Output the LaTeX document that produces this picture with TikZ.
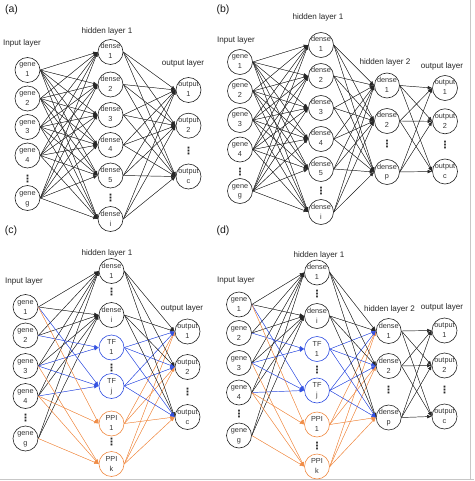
\documentclass[tikz,border=0pt]{standalone}
\usepackage{fontspec}
\setmainfont{Liberation Sans}
\newfontfamily\dvfont{DejaVu Sans}
\usetikzlibrary{arrows.meta}
\definecolor{tfblue}{RGB}{50,80,225}
\definecolor{ppiorange}{RGB}{240,140,70}
\newcommand\nlab[2]{\makebox[0pt]{\begin{tabular}{@{}c@{}}#1\\#2\end{tabular}}}
\newcommand\vdts{⋮}
\tikzset{
  neuron/.style={circle, draw=black!85, line width=0.6pt, minimum size=25pt, inner sep=0pt,
    font=\fontsize{7.3}{10}\selectfont, text=black!80},
  tfn/.style={neuron, draw=tfblue},
  ppin/.style={neuron, draw=ppiorange},
  conn/.style={-{Latex[length=4.5pt,width=3.6pt]}, line width=0.45pt, draw=black!85, fill=black!85},
  bconn/.style={conn, draw=tfblue, fill=tfblue},
  oconn/.style={conn, draw=ppiorange, fill=ppiorange},
  lbl/.style={font=\fontsize{8.1}{10}\selectfont, text=black!85, inner sep=0pt},
  plbl/.style={font=\fontsize{10.5}{12}\selectfont, text=black!90, inner sep=0pt},
  dts/.style={font=\dvfont\bfseries\fontsize{10}{10}\selectfont, text=black!85, inner sep=0pt},
  frame/.style={draw=black!22, line width=1pt}
}
\begin{document}
\begin{tikzpicture}[x=1pt,y=-1pt]
\useasboundingbox (0,0) rectangle (474,481);
\draw[frame] (470.5,0) -- (470.5,478.8);
\draw[frame] (0,479) -- (474,479);

% ---------------- panel (a)
\node[plbl] (pa) at (11.5,10) {(a)};
\node[lbl] (a-in) at (22,43) {Input layer};
\node[lbl] (a-hl) at (107,31) {hidden layer 1};
\node[lbl] (a-ol) at (183,63) {output layer};
\foreach \n/\y in {1/70,2/98.5,3/127,4/155.5,g/198}
  \node[neuron] (a-g\n) at (27.5,\y) {\nlab{gene}{\n}};
\node[dts] (a-gd) at (27.5,179) {\vdts};
\foreach \n/\y in {1/52,2/84.5,3/115,4/145,5/175.5,i/219}
  \node[neuron] (a-h\n) at (110.5,\y) {\nlab{dense}{\n}};
\node[dts] (a-hd) at (110.5,198.5) {\vdts};
\foreach \n/\y in {1/90,2/125.7,c/176.5}
  \node[neuron] (a-o\n) at (188.5,\y) {\nlab{output}{\n}};
\node[dts] (a-od) at (188.5,151) {\vdts};
\foreach \s in {1,2,3,4,g}
  \foreach \t in {1,2,3,4,5,i}
    \draw[conn] (a-g\s.east) -- (a-h\t.west);
\foreach \s in {1,2,3,4,5,i}
  \foreach \t in {1,2,c}
    \draw[conn] (a-h\s.east) -- (a-o\t.west);

% ---------------- panel (b)
\node[plbl] (pb) at (223,10) {(b)};
\node[lbl] (b-in) at (236,40) {Input layer};
\node[lbl] (b-hl) at (318,17.5) {hidden layer 1};
\node[lbl] (b-h2l) at (385,62) {hidden layer 2};
\node[lbl] (b-ol) at (442,66) {output layer};
\foreach \n/\y in {1/62,2/91,3/120,4/149.5,g/191}
  \node[neuron] (b-g\n) at (240,\y) {\nlab{gene}{\n}};
\node[dts] (b-gd) at (240,172.5) {\vdts};
\foreach \n/\y in {1/45,2/76,3/108,4/139,5/169,i/212}
  \node[neuron] (b-h\n) at (321,\y) {\nlab{dense}{\n}};
\node[dts] (b-hd) at (321,191) {\vdts};
\foreach \n/\y in {1/85.5,2/121,p/172}
  \node[neuron] (b-k\n) at (387,\y) {\nlab{dense}{\n}};
\node[dts] (b-kd) at (387,144) {\vdts};
\foreach \n/\y in {1/88,2/121.3,c/171.5}
  \node[neuron] (b-o\n) at (445,\y) {\nlab{output}{\n}};
\node[dts] (b-od) at (445,145) {\vdts};
\foreach \s in {1,2,3,4,g}
  \foreach \t in {1,2,3,4,5,i}
    \draw[conn] (b-g\s.east) -- (b-h\t.west);
\foreach \s in {1,2,3,4,5,i}
  \foreach \t in {1,2,p}
    \draw[conn] (b-h\s.east) -- (b-k\t.west);
\foreach \s in {1,2,p}
  \foreach \t in {1,2,c}
    \draw[conn] (b-k\s.east) -- (b-o\t.west);

% ---------------- panel (c)
\node[plbl] (pc) at (11,231) {(c)};
\node[lbl] (c-in) at (24,281) {Input layer};
\node[lbl] (c-hl) at (107,253) {hidden layer 1};
\node[lbl] (c-ol) at (182,308.5) {output layer};
\foreach \n/\y in {1/307,2/335.5,3/366,4/396,g/438.5}
  \node[neuron] (c-g\n) at (25.5,\y) {\nlab{gene}{\n}};
\node[dts] (c-gd) at (25.5,418) {\vdts};
\node[neuron] (c-hd1) at (111.5,271) {\nlab{dense}{1}};
\node[neuron] (c-hdi) at (111.5,315) {\nlab{dense}{i}};
\node[tfn] (c-hT1) at (111.5,347.5) {\nlab{TF}{1}};
\node[tfn] (c-hTj) at (111.5,386) {\nlab{TF}{j}};
\node[ppin] (c-hP1) at (111.5,423.5) {\nlab{PPI}{1}};
\node[ppin] (c-hPk) at (111.5,464) {\nlab{PPI}{k}};
\node[dts] (c-hx1) at (111.5,291.7) {\vdts};
\node[dts] (c-hx2) at (111.5,368.3) {\vdts};
\node[dts] (c-hx3) at (111.5,441.7) {\vdts};
\foreach \n/\y in {1/331.5,2/367,c/417}
  \node[neuron] (c-o\n) at (187.5,\y) {\nlab{output}{\n}};
\node[dts] (c-od) at (187.5,391.7) {\vdts};
\foreach \s in {1,2,3,4,g}
  \foreach \t in {d1,di}
    \draw[conn] (c-g\s.east) -- (c-h\t.west);
\foreach \s/\t in {1/Tj,2/T1,3/T1,3/Tj,4/Tj}
  \draw[bconn] (c-g\s.east) -- (c-h\t.west);
\foreach \s/\t in {1/P1,3/Pk,4/P1,4/Pk,g/Pk}
  \draw[oconn] (c-g\s.east) -- (c-h\t.west);
\foreach \t in {1,2,c} {
  \draw[oconn] (c-hP1.east) -- (c-o\t.west);
  \draw[oconn] (c-hPk.east) -- (c-o\t.west);
  \draw[conn] (c-hd1.east) -- (c-o\t.west);
  \draw[conn] (c-hdi.east) -- (c-o\t.west);
  \draw[bconn] (c-hT1.east) -- (c-o\t.west);
  \draw[bconn] (c-hTj.east) -- (c-o\t.west);
}

% ---------------- panel (d)
\node[plbl] (pd) at (223,231) {(d)};
\node[lbl] (d-in) at (236,280.5) {Input layer};
\node[lbl] (d-hl) at (319,255) {hidden layer 1};
\node[lbl] (d-h2l) at (389.5,309.5) {hidden layer 2};
\node[lbl] (d-ol) at (442,307.5) {output layer};
\foreach \n/\y in {1/304.5,2/333,3/363,4/392.5,g/435.5}
  \node[neuron] (d-g\n) at (239,\y) {\nlab{gene}{\n}};
\node[dts] (d-gd) at (239,414) {\vdts};
\node[neuron] (d-hd1) at (317,272.5) {\nlab{dense}{1}};
\node[neuron] (d-hdi) at (317,316) {\nlab{dense}{i}};
\node[tfn] (d-hT1) at (317,349) {\nlab{TF}{1}};
\node[tfn] (d-hTj) at (317,390.5) {\nlab{TF}{j}};
\node[ppin] (d-hP1) at (317,424.5) {\nlab{PPI}{1}};
\node[ppin] (d-hPk) at (317,466.5) {\nlab{PPI}{k}};
\node[dts] (d-hx1) at (317,294) {\vdts};
\node[dts] (d-hx2) at (317,370) {\vdts};
\node[dts] (d-hx3) at (317,446.5) {\vdts};
\foreach \n/\y in {1/331,2/366,p/417.5}
  \node[neuron] (d-k\n) at (388.7,\y) {\nlab{dense}{\n}};
\node[dts] (d-kd) at (388.7,390) {\vdts};
\foreach \n/\y in {1/330.5,2/365.5,c/416.5}
  \node[neuron] (d-o\n) at (444.5,\y) {\nlab{output}{\n}};
\node[dts] (d-od) at (444.5,390) {\vdts};
\foreach \s in {1,2,3,4,g}
  \foreach \t in {d1,di}
    \draw[conn] (d-g\s.east) -- (d-h\t.west);
\foreach \s/\t in {1/Tj,2/T1,3/T1,3/Tj,4/Tj}
  \draw[bconn] (d-g\s.east) -- (d-h\t.west);
\foreach \s/\t in {1/P1,3/Pk,4/P1,4/Pk,g/Pk}
  \draw[oconn] (d-g\s.east) -- (d-h\t.west);
\foreach \t in {1,2,p} {
  \draw[oconn] (d-hP1.east) -- (d-k\t.west);
  \draw[oconn] (d-hPk.east) -- (d-k\t.west);
  \draw[conn] (d-hd1.east) -- (d-k\t.west);
  \draw[conn] (d-hdi.east) -- (d-k\t.west);
  \draw[bconn] (d-hT1.east) -- (d-k\t.west);
  \draw[bconn] (d-hTj.east) -- (d-k\t.west);
}
\foreach \s in {1,2,p}
  \foreach \t in {1,2,c}
    \draw[conn] (d-k\s.east) -- (d-o\t.west);
\end{tikzpicture}
\end{document}
